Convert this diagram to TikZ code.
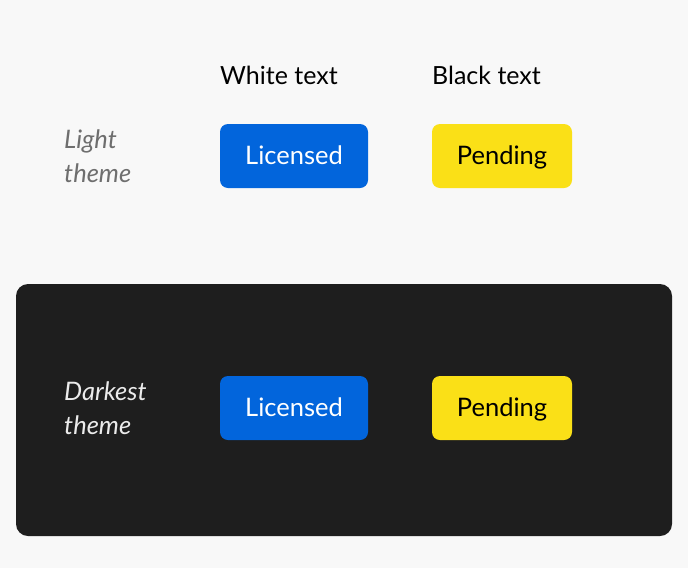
\documentclass[tikz,border=0pt]{standalone}
\usepackage{fontspec}
\setmainfont{Lato}
\definecolor{bgc}{HTML}{F8F8F8}
\definecolor{panel}{HTML}{1E1E1E}
\definecolor{badgeblue}{HTML}{0265DC}
\definecolor{badgeyellow}{HTML}{FAE017}
\definecolor{lightlabel}{HTML}{6E6E6E}
\definecolor{darklabel}{HTML}{EBEBEB}
\begin{document}
\begin{tikzpicture}[x=1pt,y=-1pt,
  badge/.style={rounded corners=8pt, minimum height=64pt, inner sep=0pt, text height=20pt, text depth=4pt, font=\fontsize{25.5}{30}\selectfont},
  bluebadge/.style={badge, fill=badgeblue, text=white, minimum width=148pt},
  yellowbadge/.style={badge, fill=badgeyellow, text=black, minimum width=140pt},
  header/.style={anchor=base west, inner sep=0pt, font=\fontsize{25}{30}\selectfont, text=black},
  themelabel/.style={anchor=base west, inner sep=0pt, font=\fontsize{25.5}{30}\selectfont\itshape}]
\fill[bgc] (0,0) rectangle (688,568);
\useasboundingbox (0,0) rectangle (688,568);
\fill[panel, rounded corners=12pt] (16,284) rectangle (672,536);
\node[header] (hw) at (220,84) {White text};
\node[header] (hb) at (432,84) {Black text};
\node[themelabel, text=lightlabel] (l1) at (64,148) {Light};
\node[themelabel, text=lightlabel] (l2) at (64,182) {theme};
\node[bluebadge] (b1) at (294,156) {Licensed};
\node[yellowbadge] (y1) at (502,156) {Pending};
\node[themelabel, text=darklabel] (d1) at (64,400) {Darkest};
\node[themelabel, text=darklabel] (d2) at (64,434) {theme};
\node[bluebadge] (b2) at (294,408) {Licensed};
\node[yellowbadge] (y2) at (502,408) {Pending};
\end{tikzpicture}
\end{document}
